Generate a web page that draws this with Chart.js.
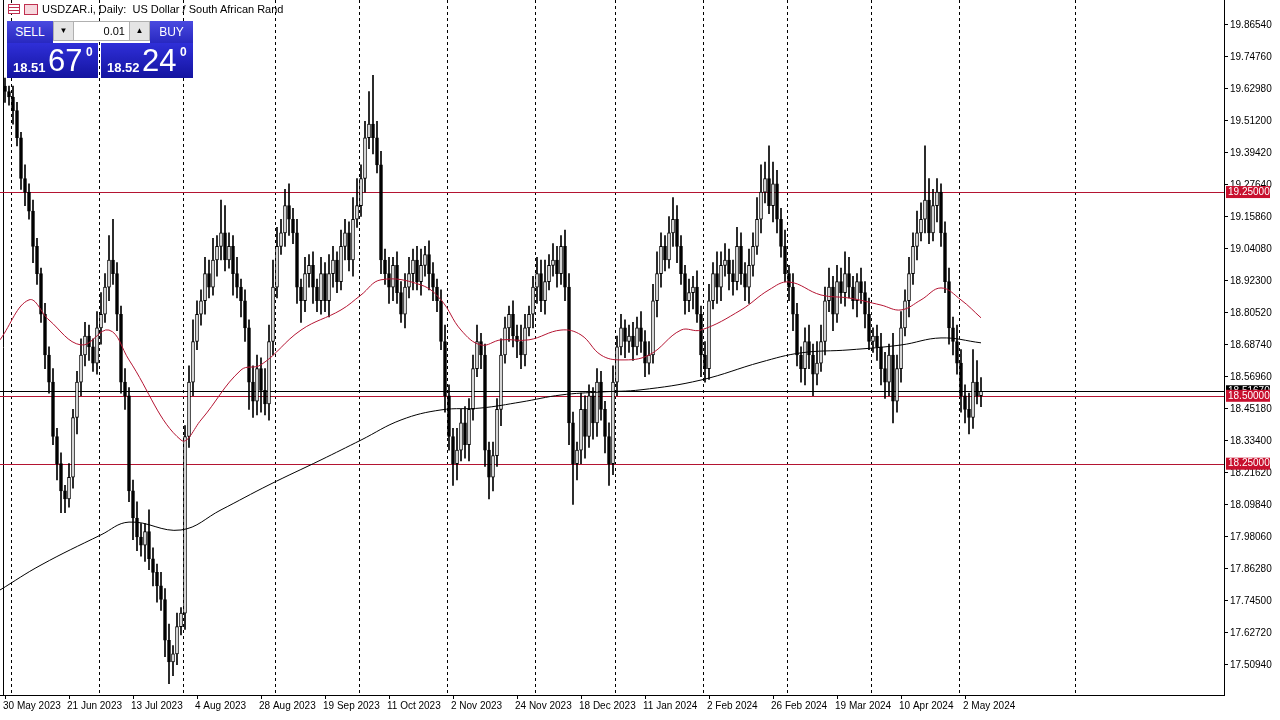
<!DOCTYPE html>
<html><head><meta charset="utf-8">
<script src="https://cdn.jsdelivr.net/npm/chart.js@4.4.1/dist/chart.umd.min.js"></script>
<style>
html,body{margin:0;padding:0;background:#fff;overflow:hidden;font-family:Tahoma,"DejaVu Sans",sans-serif}
#wrap{position:absolute;left:0;top:0;width:1280px;height:720px}
#hdr{position:absolute;left:8px;top:3px;font:11px "Liberation Sans";color:#000;display:flex;align-items:center;gap:4px}
.ic{display:inline-block;width:12px;height:10px;border:1px solid #c03050;box-sizing:border-box;background:repeating-linear-gradient(#fff 0 2px,#c03050 2px 3px)}
.ic2{display:inline-block;width:14px;height:11px;border:1px solid #c03050;box-sizing:border-box;background:#f6d8de}
.bx{position:absolute;background:linear-gradient(#2f2fd8,#1414a0);color:#fff;box-sizing:border-box;font-family:"Liberation Sans"}
.sm{position:absolute;left:6px;top:17px;font-size:13px;font-weight:bold}
.bg{position:absolute;left:41px;top:0px;font-size:31px}
.sp{position:absolute;left:79px;top:2px;font-size:12px;font-weight:bold}
</style></head><body>
<div id="wrap"><canvas id="c" width="1280" height="720"></canvas></div>
<div id="hdr"><span class="ic"></span><span class="ic2"></span><span>USDZAR.i, Daily:&nbsp; US Dollar / South African Rand</span></div>
<div class="bx" style="left:7px;top:21px;width:46px;height:22px;font-size:12px;line-height:22px;text-align:center;background:linear-gradient(#4a4ae0,#2828c0)">SELL</div>
<div style="position:absolute;left:53px;top:21px;width:97px;height:20px;background:#fff;border:1px solid #b0b0b0;box-sizing:border-box;font:11px 'Liberation Sans'">
 <div style="position:absolute;left:0;top:0;width:19px;height:18px;background:#e4e4e4;border-right:1px solid #b0b0b0;text-align:center;font-size:8px;line-height:18px">▼</div>
 <div style="position:absolute;right:24px;top:3px">0.01</div>
 <div style="position:absolute;right:0;top:0;width:19px;height:18px;background:#e4e4e4;border-left:1px solid #b0b0b0;text-align:center;font-size:8px;line-height:18px">▲</div>
</div>
<div class="bx" style="left:150px;top:21px;width:43px;height:22px;font-size:12px;line-height:22px;text-align:center;background:linear-gradient(#4a4ae0,#2828c0)">BUY</div>
<div class="bx" style="left:7px;top:43px;width:91px;height:35px"><span class="sm">18.51</span><span class="bg">67</span><span class="sp">0</span></div>
<div class="bx" style="left:101px;top:43px;width:92px;height:35px"><span class="sm">18.52</span><span class="bg">24</span><span class="sp">0</span></div>
<script>
const firstOpen = 19.64;
const closes = [
19.62,19.60,19.55,19.45,19.30,19.25,19.18,19.05,18.95,18.80,
18.65,18.55,18.35,18.25,18.15,18.12,18.20,18.42,18.55,18.65,
18.72,18.68,18.62,18.75,18.80,18.90,19.00,18.95,18.80,18.55,
18.50,18.15,18.05,17.98,17.95,18.00,17.90,17.85,17.80,17.75,
17.60,17.52,17.55,17.65,17.70,18.35,18.55,18.70,18.80,18.85,
18.95,18.90,19.00,19.05,19.10,19.00,19.05,18.95,18.90,18.85,
18.75,18.55,18.48,18.60,18.52,18.47,18.70,18.90,19.05,19.10,
19.20,19.15,19.10,18.90,18.85,18.95,18.98,18.90,18.85,18.95,
18.85,18.95,19.00,18.92,19.05,19.10,19.00,19.15,19.20,19.30,
19.45,19.50,19.45,19.35,19.00,18.95,18.90,18.98,18.88,18.80,
18.90,18.95,19.00,18.92,18.98,19.02,18.95,18.90,18.85,18.70,
18.50,18.35,18.25,18.30,18.40,18.32,18.45,18.60,18.70,18.65,
18.30,18.20,18.28,18.45,18.65,18.75,18.80,18.72,18.70,18.65,
18.75,18.80,18.90,18.95,18.85,18.92,18.98,19.00,18.95,19.05,
18.90,18.40,18.25,18.30,18.45,18.35,18.50,18.40,18.55,18.45,
18.35,18.25,18.55,18.68,18.75,18.70,18.72,18.68,18.75,18.70,
18.62,18.65,18.85,18.95,19.05,19.00,19.10,19.15,19.05,18.95,
18.85,18.88,18.90,18.80,18.65,18.60,18.85,18.95,18.90,18.98,
19.00,18.95,18.92,19.05,18.95,18.90,18.98,19.05,19.15,19.25,
19.30,19.20,19.28,19.15,19.05,18.95,18.90,18.80,18.65,18.60,
18.70,18.65,18.58,18.62,18.70,18.85,18.90,18.80,18.92,18.88,
18.95,18.90,18.85,18.92,18.88,18.80,18.70,18.72,18.68,18.60,
18.55,18.65,18.48,18.60,18.75,18.85,18.95,19.05,19.10,19.15,
19.22,19.10,19.20,19.25,19.10,18.92,18.75,18.70,18.62,18.50,
18.45,18.42,18.55,18.50,18.5167];
const wickUp = [
3,2,4,3,2,5,3,4,3,2, 4,3,5,3,4,2,5,3,4,6, 5,4,3,6,8,5,9,15,4,3, 5,3,4,6,5,3,8,4,3,5,
4,6,3,5,2,4,6,8,5,4, 6,5,8,4,12,10,5,4,6,3, 4,3,6,5,4,8,6,10,7,5, 6,8,4,5,3,6,4,5,3,6,
4,7,5,3,6,5,4,8,10,5, 6,12,18,6,5,4,6,3,5,4, 5,6,4,5,6,3,5,4,3,4, 6,4,3,8,5,6,4,5,6,3,
4,3,5,4,6,4,3,5,4,6, 5,3,4,6,5,8,4,6,5,4, 6,5,4,3,6,5,4,3,5,4, 3,5,6,4,5,3,4,5,4,6,
4,5,6,8,5,4,6,8,5,4, 3,5,4,6,3,5,6,4,8,5, 6,4,5,7,5,4,6,5,8,10, 6,12,8,5,4,6,3,5,4,3,
5,6,4,8,6,5,7,4,6,5, 8,6,4,3,5,4,6,3,4,5, 6,4,8,5,6,4,6,5,8,6, 20,8,6,5,3,4,5,4,6,5,
4,6,12,8,5];
const wickDn = [
4,3,5,3,4,5,3,6,4,3, 5,4,3,6,8,5,3,4,6,5, 4,5,3,4,6,3,5,4,6,4, 5,4,8,5,4,6,4,5,6,4,
6,8,5,4,3,6,4,5,3,4, 5,4,3,6,5,4,3,8,4,6, 5,10,6,5,8,4,6,5,4,3, 5,6,4,6,8,4,5,6,4,5,
4,6,5,4,3,5,4,6,3,4, 5,4,6,3,5,4,6,5,4,3, 5,4,6,3,5,4,6,5,4,3, 6,5,8,6,4,5,6,4,3,5,
6,8,5,4,6,3,5,4,6,5, 4,3,5,6,4,5,3,4,5,4, 5,8,15,6,5,8,4,6,5,4, 6,8,4,5,3,6,4,5,3,4,
5,4,3,6,5,4,3,5,6,4, 5,4,6,3,8,5,4,3,6,5, 4,6,5,3,4,5,6,4,3,5, 4,3,6,5,4,3,5,6,4,5,
6,5,8,4,3,5,4,6,3,4, 5,4,3,6,4,5,3,4,5,6, 6,5,8,4,5,3,6,4,5,3, 5,4,3,6,5,4,6,5,4,6,
5,6,4,3,4];
const ma50 = [[-1.25,18.706],[6,18.853],[11,18.779],[19,18.687],[26,18.742],[31,18.632],[44,18.337],[49,18.411],[59,18.595],[64,18.614],[74,18.742],[84,18.816],[89,18.871],[94,18.927],[104,18.908],[109,18.853],[114,18.742],[119,18.687],[124,18.706],[131,18.706],[139,18.742],[144,18.724],[149,18.650],[154,18.632],[161,18.650],[169,18.742],[174,18.742],[184,18.816],[191,18.890],[196,18.919],[204,18.871],[211,18.860],[219,18.834],[224,18.816],[229,18.853],[234,18.897],[239,18.853],[244,18.787]];
const ma200 = [[-1.25,17.785],[9,17.877],[24,17.988],[31,18.035],[44,18.006],[54,18.080],[66,18.172],[79,18.264],[89,18.337],[99,18.411],[109,18.448],[119,18.455],[129,18.477],[139,18.503],[149,18.514],[159,18.522],[174,18.558],[189,18.624],[199,18.658],[211,18.669],[224,18.687],[234,18.713],[244,18.695]];
const yTicks = [19.86540,19.74760,19.62980,19.51200,19.39420,19.27640,19.15860,19.04080,18.92300,18.80520,18.68740,18.56960,18.45180,18.33400,18.21620,18.09840,17.98060,17.86280,17.74500,17.62720,17.50940];
const dateLabels = ["30 May 2023","21 Jun 2023","13 Jul 2023","4 Aug 2023","28 Aug 2023","19 Sep 2023","11 Oct 2023","2 Nov 2023","24 Nov 2023","18 Dec 2023","11 Jan 2024","2 Feb 2024","26 Feb 2024","19 Mar 2024","10 Apr 2024","2 May 2024"];
const dateIdx = [0,16,32,48,64,80,96,112,128,144,160,176,192,208,224,240];
const monthSep = [1.5,23.5,44.5,67.5,88.5,110.5,132.5,152.5,174.5,195.5,216.5,238.5,267.5];
const levels = [19.25,18.50,18.25];
const bid = 18.5167;

const RED='rgb(180,20,50)';
const opens = closes.map((c,i)=> i===0 ? firstOpen : closes[i-1]);
const bodies = closes.map((c,i)=>({x:i,y:[opens[i],c]}));
const wicks = closes.map((c,i)=>({x:i,y:[Math.min(opens[i],c)-wickDn[i]/100, Math.max(opens[i],c)+wickUp[i]/100]}));
const up = closes.map((c,i)=>c>=opens[i]);
const FONT='10px "Liberation Sans"';

const deco = {
 id:'deco',
 beforeDatasetsDraw(ch){
  const {ctx,chartArea:a,scales:{x,y}}=ch;
  ctx.save();ctx.strokeStyle='#000';ctx.lineWidth=1;ctx.setLineDash([3,3]);
  monthSep.forEach(m=>{const px=Math.round(x.getPixelForValue(m))+0.5;ctx.beginPath();ctx.moveTo(px,a.top);ctx.lineTo(px,a.bottom);ctx.stroke();});
  ctx.setLineDash([]);
  ctx.beginPath();ctx.moveTo(3.5,a.top);ctx.lineTo(3.5,a.bottom);ctx.stroke();
  const by=Math.round(y.getPixelForValue(bid))+0.5;
  ctx.beginPath();ctx.moveTo(a.left,by);ctx.lineTo(a.right,by);ctx.stroke();
  ctx.strokeStyle=RED;
  levels.forEach(l=>{const py=Math.round(y.getPixelForValue(l))+0.5;ctx.beginPath();ctx.moveTo(a.left,py);ctx.lineTo(a.right,py);ctx.stroke();});
  ctx.restore();
 },
 afterDraw(ch){
  const {ctx,chartArea:a,scales:{x,y}}=ch;
  ctx.save();
  ctx.strokeStyle='#000';ctx.beginPath();ctx.moveTo(a.left,a.bottom+0.5);ctx.lineTo(a.right,a.bottom+0.5);ctx.stroke();
  ctx.font=FONT;ctx.fillStyle='#000';ctx.textBaseline='top';
  dateLabels.forEach((t,k)=>{const px=x.getPixelForValue(dateIdx[k]);
    ctx.beginPath();ctx.moveTo(Math.round(px)+0.5,a.bottom);ctx.lineTo(Math.round(px)+0.5,a.bottom+4);ctx.stroke();
    ctx.fillText(t,Math.max(3,px-2),a.bottom+6);});
  const box=(v,bg,txt)=>{const py=y.getPixelForValue(v);ctx.fillStyle=bg;ctx.fillRect(a.right+2,py-6,44,12);ctx.fillStyle='#fff';ctx.textBaseline='middle';ctx.fillText(txt,a.right+4,py);};
  box(bid,'#000','18.51670');
  levels.forEach(l=>box(l,'#c8102e',l.toFixed(5)));
  ctx.restore();
 }
};

new Chart(document.getElementById('c'),{
 data:{datasets:[
  {type:'bar',data:wicks,backgroundColor:'#000',borderWidth:0,barThickness:1,grouped:false,order:3},
  {type:'bar',data:bodies,backgroundColor:up.map(u=>u?'#fff':'#000'),borderColor:'#000',borderWidth:1,borderSkipped:false,barThickness:3,minBarLength:1,grouped:false,order:2},
  {type:'line',data:ma50.map(p=>({x:p[0],y:p[1]})),borderColor:RED,borderWidth:1,pointRadius:0,pointHoverRadius:0,tension:0.4,order:1},
  {type:'line',data:ma200.map(p=>({x:p[0],y:p[1]})),borderColor:'#000',borderWidth:1,pointRadius:0,pointHoverRadius:0,tension:0.4,order:1}
 ]},
 options:{responsive:false,animation:false,events:[],
  layout:{autoPadding:false,padding:{bottom:25,top:0,left:0,right:0}},
  plugins:{legend:{display:false},tooltip:{enabled:false}},
  scales:{
   x:{type:'linear',min:-1.25,max:304.75,offset:false,display:false},
   y:{position:'right',min:17.3985,max:19.957,
     afterBuildTicks(s){s.ticks=yTicks.map(v=>({value:v}));},
     afterFit(s){s.width=56;s.paddingTop=0;s.paddingBottom=0;},
     grid:{drawOnChartArea:false,drawTicks:true,tickLength:4,color:'#000'},
     border:{display:true,color:'#000'},
     ticks:{color:'#000',font:{family:'Liberation Sans',size:10},padding:2,callback:v=>v.toFixed(5)}}
  }},
 plugins:[deco]
});
</script></body></html>
